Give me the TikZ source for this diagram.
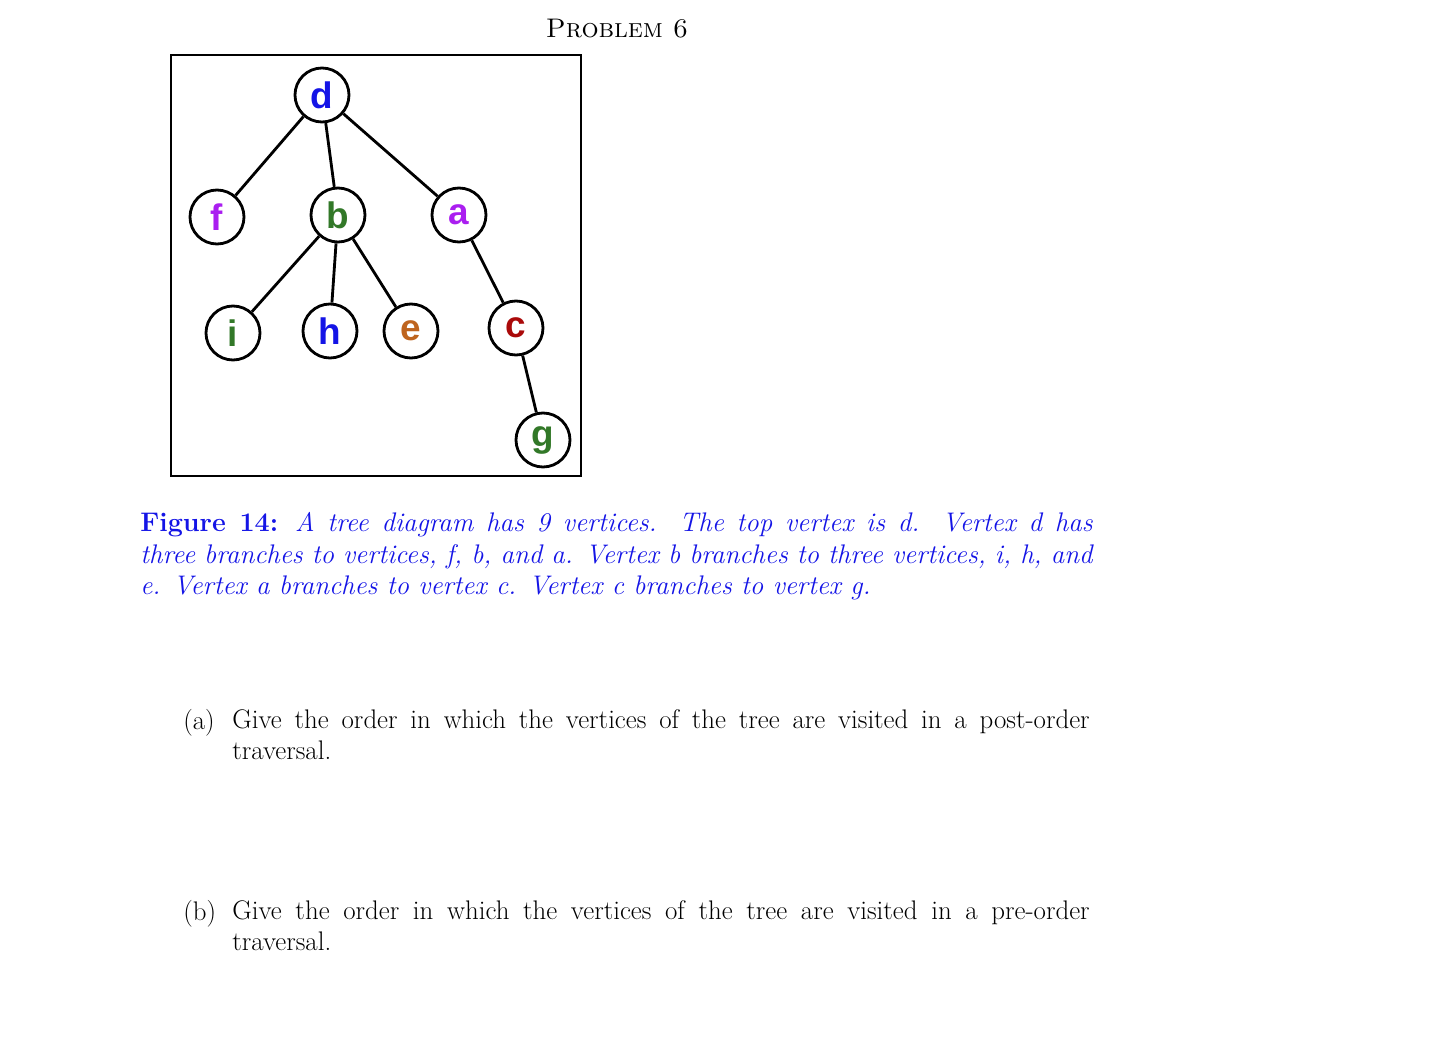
\documentclass[tikz,border=0pt]{standalone}
\usepackage{fontspec}
\newfontfamily\lsans{Liberation Sans}
\definecolor{cblue}{RGB}{20,20,230}
\definecolor{cmag}{RGB}{170,30,240}
\definecolor{cgreen}{RGB}{50,120,40}
\definecolor{cbrown}{RGB}{190,100,30}
\definecolor{cred}{RGB}{170,10,10}
\begin{document}
\begin{tikzpicture}[x=0.02cm,y=-0.02cm,
  vtx/.style={circle,draw,line width=1.6pt,minimum size=1.08cm,inner sep=0pt,font=\lsans\bfseries\fontsize{21}{21}\selectfont},
  edge/.style={line width=1.6pt},
  body/.style={anchor=north west,inner sep=0pt,align=justify,font=\fontsize{15.3}{18}\selectfont}]
\useasboundingbox (0,0) rectangle (1431,1054);
\node (title) at (617,29) {\fontsize{15.3}{18}\selectfont\textsc{Problem 6}};
\draw[line width=0.6pt] (171,55) rectangle (581,476);
\node[vtx,text=cblue] (d) at (322,95) {d};
\node[vtx,text=cmag] (f) at (217,217) {f};
\node[vtx,text=cgreen] (b) at (338,215) {b};
\node[vtx,text=cmag] (a) at (459,215) {a};
\node[vtx,text=cgreen] (i) at (233,333) {i};
\node[vtx,text=cblue] (h) at (330,331) {h};
\node[vtx,text=cbrown] (e) at (411,331) {e};
\node[vtx,text=cred] (c) at (516,328) {c};
\node[vtx,text=cgreen] (g) at (543,440) {g};
\draw[edge] (d)--(f) (d)--(b) (d)--(a) (b)--(i) (b)--(h) (b)--(e) (a)--(c) (c)--(g);
\node[body,text width=542pt,text=cblue] (cap) at (140,512) {\textbf{Figure 14:} \itshape A tree diagram has 9 vertices. The top vertex is d. Vertex d has\linebreak three branches to vertices, f, b, and a. Vertex b branches to three vertices, i, h, and\linebreak e. Vertex a branches to vertex c. Vertex c branches to vertex g.};
\node[anchor=north west,inner sep=0pt,font=\fontsize{15.3}{18}\selectfont] (la) at (183,709) {(a)};
\node[body,text width=488pt] (qa) at (232,709) {Give the order in which the vertices of the tree are visited in a post-order\linebreak traversal.};
\node[anchor=north west,inner sep=0pt,font=\fontsize{15.3}{18}\selectfont] (lb) at (183,900) {(b)};
\node[body,text width=488pt] (qb) at (232,900) {Give the order in which the vertices of the tree are visited in a pre-order\linebreak traversal.};
\end{tikzpicture}
\end{document}
